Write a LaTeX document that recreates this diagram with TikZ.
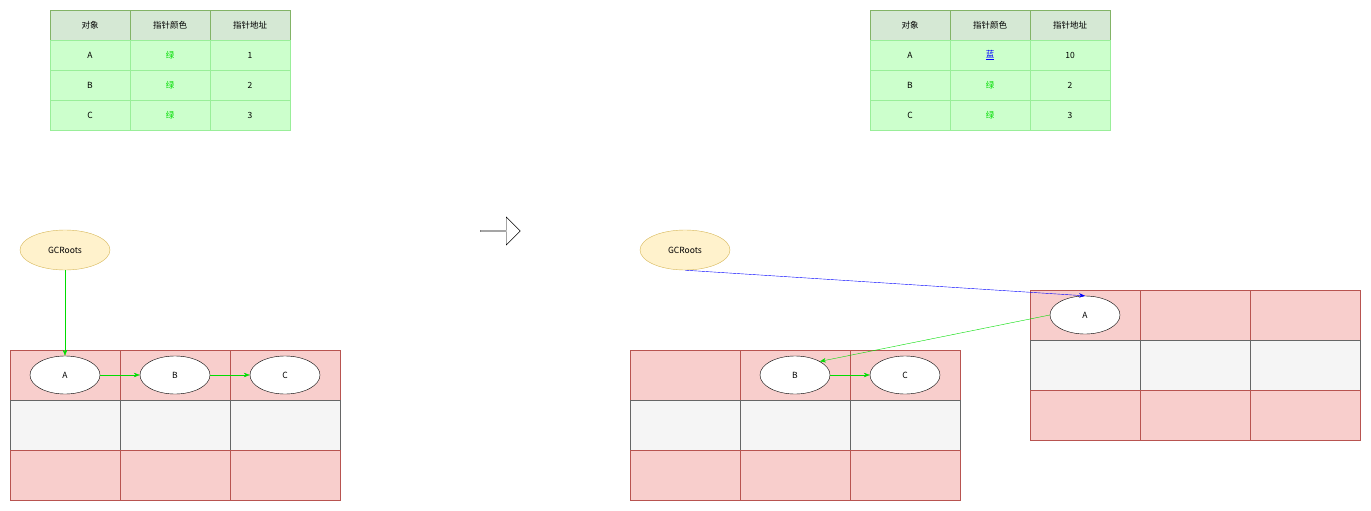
\documentclass[tikz,border=0pt]{standalone}
\usepackage{fontspec}
\setmainfont{Liberation Sans}
\newfontfamily\cjk{Noto Sans CJK SC}
\usetikzlibrary{shapes.geometric,shapes.arrows,arrows.meta}
\begin{document}
\begin{tikzpicture}[x=1pt,y=-1pt,font=\fontsize{8.5}{10}\selectfont\cjk,
 pinkc/.style={fill=red!20!pink!60,draw=red!50!black!70},
 pk/.style={fill={rgb,255:red,248;green,206;blue,204},draw={rgb,255:red,184;green,84;blue,80}},
 gr/.style={fill={rgb,255:red,245;green,245;blue,245},draw={rgb,255:red,102;green,102;blue,102}},
 hd/.style={fill={rgb,255:red,213;green,232;blue,212},draw={rgb,255:red,130;green,179;blue,102}},
 bd/.style={fill={rgb,255:red,204;green,255;blue,204},draw={rgb,255:red,153;green,238;blue,153}},
 obj/.style={ellipse,draw,fill=white,minimum width=70pt,minimum height=38pt,inner sep=0pt},
 gc/.style={ellipse,fill={rgb,255:red,255;green,242;blue,204},draw={rgb,255:red,214;green,182;blue,86},minimum width=90pt,minimum height=40pt,inner sep=0pt},
 ga/.style={draw={rgb,255:red,0;green,220;blue,0},-{Stealth[length=6pt]}},
 ba/.style={draw=blue,-{Stealth[length=6pt]}}]
\useasboundingbox (0,0) rectangle (1371,511);
% tables
\foreach \ox/\c in {50/A,870/B}{
 \foreach \i/\t in {0/对象,1/指针颜色,2/指针地址}{
  \node[hd,minimum width=80pt,minimum height=30pt,inner sep=0pt] at (\ox+40+80*\i,25) {\t};}
}
\foreach \ox in {50,870}{
 \foreach \r in {0,1,2}{\foreach \i in {0,1,2}{
  \path[bd] (\ox+80*\i,40+30*\r) rectangle +(80,30);}}
 \node at (\ox+40,55) {A}; \node at (\ox+40,85) {B}; \node at (\ox+40,115) {C};
 \node[text={rgb,255:red,0;green,220;blue,0}] at (\ox+120,85) {绿};
 \node[text={rgb,255:red,0;green,220;blue,0}] at (\ox+120,115) {绿};
 \node at (\ox+200,85) {2}; \node at (\ox+200,115) {3};
}
\node[text={rgb,255:red,0;green,220;blue,0}] at (170,55) {绿};
\node at (250,55) {1};
\node[text=blue] at (990,55) {\underline{蓝}};
\node at (1070,55) {10};
% grids
\foreach \ox/\oy in {10/350,630/350,1030/290}{
 \foreach \i in {0,1,2}{
  \path[pk] (\ox+110*\i,\oy) rectangle +(110,50);
  \path[gr] (\ox+110*\i,\oy+50) rectangle +(110,50);
  \path[pk] (\ox+110*\i,\oy+100) rectangle +(110,50);}
}
% block arrow
\node[single arrow,draw,fill=white,minimum height=40pt,minimum width=28pt,single arrow head extend=5pt,inner sep=0pt] (arr) at (500,231) {};
% nodes
\node[gc] (g1) at (65,250) {GCRoots};
\node[gc] (g2) at (685,250) {GCRoots};
\node[obj] (a1) at (65,375) {A};
\node[obj] (b1) at (175,375) {B};
\node[obj] (c1) at (285,375) {C};
\node[obj] (b2) at (795,375) {B};
\node[obj] (c2) at (905,375) {C};
\node[obj] (a2) at (1085,315) {A};
\draw[ga] (g1.south) -- (a1.north);
\draw[ga] (a1) -- (b1);
\draw[ga] (b1) -- (c1);
\draw[ga] (b2) -- (c2);
\draw[ba] (g2.south) -- (a2.north);
\draw[ga] (a2.west) -- (b2.north east);
\end{tikzpicture}
\end{document}
